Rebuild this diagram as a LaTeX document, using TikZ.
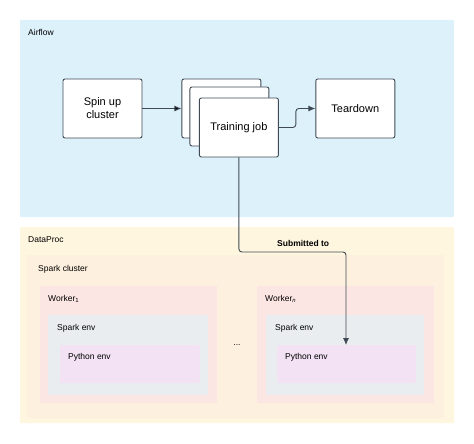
\documentclass[tikz,border=0pt]{standalone}
\usepackage{fontspec}
\setmainfont{Liberation Sans}
\usetikzlibrary{arrows.meta,positioning}

\definecolor{airflowbg}{HTML}{DDF1FB}
\definecolor{dataprocbg}{HTML}{FFF6E0}
\definecolor{clusterbg}{HTML}{FEF0DF}
\definecolor{workerbg}{HTML}{FCE6E3}
\definecolor{sparkbg}{HTML}{E9EDF0}
\definecolor{pythonbg}{HTML}{F2E2F4}
\definecolor{linegrey}{HTML}{3F4A54}

\begin{document}
\begin{tikzpicture}[x=1pt,y=-1pt,>={Latex[length=7pt,width=6pt]},
  zone/.style={rectangle,inner sep=0,outer sep=0,anchor=north west,rounded corners=1pt},
  lbl/.style={inner sep=0,anchor=north west,font=\fontsize{8.5}{10}\selectfont},
  job/.style={draw=linegrey,line width=0.9pt,fill=white,rounded corners=2pt,
              minimum width=79pt,minimum height=59pt,align=center,
              font=\fontsize{11}{13}\selectfont}]

  \useasboundingbox (0,0) rectangle (474,444);

  % regions
  \node[zone,fill=airflowbg,minimum width=434pt,minimum height=197pt]  (airflow) at (20,20)   {};
  \node[zone,fill=dataprocbg,minimum width=434pt,minimum height=196pt] (dataproc) at (20,227) {};
  \node[zone,fill=clusterbg,minimum width=417pt,minimum height=163pt]  (cluster) at (27,255)  {};
  \node[zone,fill=workerbg,minimum width=177pt,minimum height=117pt]   (w1) at (40,286)       {};
  \node[zone,fill=sparkbg,minimum width=160pt,minimum height=80pt]     (spark1) at (48,315)   {};
  \node[zone,fill=pythonbg,minimum width=140pt,minimum height=38pt]    (py1) at (60,345)      {};
  \node[zone,fill=workerbg,minimum width=177pt,minimum height=117pt]   (wn) at (257,286)      {};
  \node[zone,fill=sparkbg,minimum width=158pt,minimum height=80pt]     (sparkn) at (266,315)  {};
  \node[zone,fill=pythonbg,minimum width=139pt,minimum height=38pt]    (pyn) at (277,345)     {};

  \node[lbl] (airflowlbl)  [below right=9pt and 8pt of airflow.north west]  {Airflow};
  \node[lbl] (dataproclbl) [below right=9pt and 8pt of dataproc.north west] {DataProc};
  \node[lbl] (clusterlbl)  [below right=10pt and 11pt of cluster.north west] {Spark cluster};
  \node[lbl] (w1lbl)       [below right=9pt and 8pt of w1.north west]       {Worker\textsubscript{1}};
  \node[lbl] (spark1lbl)   [below right=9pt and 9pt of spark1.north west]   {Spark env};
  \node[lbl] (py1lbl)      [below right=8pt and 8pt of py1.north west]      {Python env};
  \node[lbl] (wnlbl)       [below right=9pt and 8pt of wn.north west]       {Worker\textsubscript{\textit{n}}};
  \node[lbl] (sparknlbl)   [below right=9pt and 9pt of sparkn.north west]   {Spark env};
  \node[lbl] (pynlbl)      [below right=8pt and 8pt of pyn.north west]      {Python env};
  \node[font=\fontsize{8.5}{10}\selectfont] (dots) at (237,345) {...};

  % jobs
  \node[job] (spin)                            at (102.5,108.5)          {Spin up\\cluster};
  \node[job] (back)     [right=39pt of spin]                              {};
  \node[job] (mid)                             at ([shift={(8,8)}]back)  {};
  \node[job] (train)                           at ([shift={(17.5,19)}]back) {Training job};
  \node[job] (teardown) [right=54pt of back]                              {Teardown};

  \path[->,draw=linegrey,line width=0.9pt]
     (spin) edge (back)
  ;
  \draw[->,linegrey,line width=0.9pt,rounded corners=3pt]
     (train.east) -- ++(17,0) |- (teardown.west);
  \coordinate (turn) at (346,252);
  \draw[->,linegrey,line width=0.9pt,rounded corners=3pt]
     (train.south) |- node[pos=0.8,above=2pt,text=black,font=\bfseries\fontsize{8.5}{10}\selectfont]{Submitted to}
     (turn) -- (turn |- pyn.north);
\end{tikzpicture}
\end{document}
